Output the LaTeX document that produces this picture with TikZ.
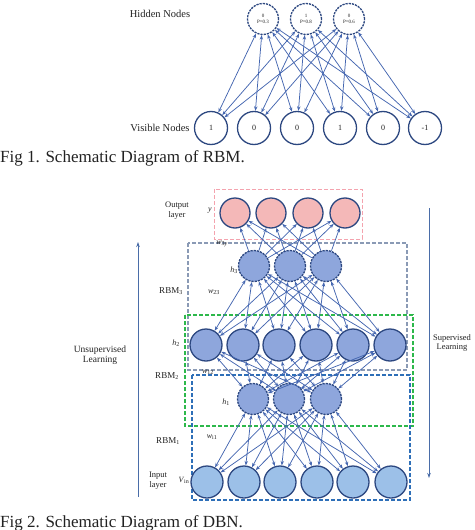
\documentclass[tikz,border=0pt]{standalone}
\usepackage{fontspec}
\setmainfont{Liberation Serif}
\usetikzlibrary{arrows.meta}
\definecolor{nodeborder}{HTML}{2C4780}
\definecolor{arrowc}{HTML}{4466B0}
\definecolor{pinkfill}{HTML}{F4B8B8}
\definecolor{hfill}{HTML}{8EA6DC}
\definecolor{infill}{HTML}{9CC0E8}
\definecolor{pinkbox}{HTML}{F4A3AE}
\definecolor{graybox}{HTML}{8A9AB5}
\definecolor{greenbox}{HTML}{2DB84B}
\definecolor{bluebox}{HTML}{2E6FB8}
\definecolor{axisc}{HTML}{4A6DA8}
\definecolor{txt}{HTML}{222222}
\begin{document}
\begin{tikzpicture}[x=1pt,y=-1pt,
  neuron/.style={circle,draw=nodeborder,line width=1.3pt,inner sep=0pt,minimum size=31pt},
  dneuron/.style={neuron,dash pattern=on 2.2pt off 1pt},
  conn/.style={draw=arrowc,line width=0.75pt,{Stealth[length=4.5pt,width=3.4pt]}-{Stealth[length=4.5pt,width=3.4pt]}},
  oneconn/.style={draw=arrowc,line width=0.75pt,-{Stealth[length=4.5pt,width=3.4pt]}},
  lbl/.style={text=txt,font=\fontsize{8}{9}\selectfont,inner sep=0pt},
  biglbl/.style={text=txt,font=\fontsize{10.5}{12}\selectfont,inner sep=0pt},
  captext/.style={text=txt,font=\fontsize{17}{20}\selectfont,inner sep=0pt,anchor=base west},
  probtext/.style={font=\fontsize{5}{5.5}\selectfont,text=txt,align=center},
  boxline/.style={dash pattern=on 4pt off 2pt}
]
\useasboundingbox (0,0) rectangle (474,530);

% ---------------- Fig 1 ----------------
\node[biglbl] (hidlbl) at (160,14) {Hidden Nodes};
\node[biglbl] (vislbl) at (160,128) {Visible Nodes};
\foreach \i/\x/\t in {1/263/{0\\P=0.3},2/306/{1\\P=0.8},3/349/{0\\P=0.6}}
  \node[dneuron,fill=white,probtext] (H\i) at (\x,19) {\t};
\foreach \i/\x/\t in {1/211/1,2/254/0,3/297/0,4/340/1,5/383/0,6/425/-1}
  \node[neuron,fill=white,minimum size=33pt,font=\fontsize{8}{9}\selectfont,text=txt] (V\i) at (\x,128) {\t};
\foreach \i in {1,2,3}
  \foreach \j in {1,...,6}
    \draw[conn] (H\i) -- (V\j);
\node[captext] (cap1) at (0,162) {Fig 1. Schematic Diagram of RBM.};

% ---------------- Fig 2 ----------------
% boxes
\draw[pinkbox,line width=1pt,boxline] (214,189) rectangle (362,239);
\draw[graybox,line width=1.3pt,boxline] (188,243) rectangle (407,370);
\draw[greenbox,line width=1.8pt,boxline] (185,315) rectangle (413,426);
\draw[bluebox,line width=1.5pt,boxline] (192,375) rectangle (410,500);

% nodes
\foreach \i/\x in {1/235,2/271,3/308,4/345}
  \node[neuron,fill=pinkfill,minimum size=30pt] (Y\i) at (\x,213) {};
\foreach \i/\x in {1/254,2/290,3/326}
  \node[dneuron,fill=hfill,minimum size=31pt] (C\i) at (\x,266) {};
\foreach \i/\x in {1/206,2/243,3/279,4/316,5/353,6/390}
  \node[neuron,fill=hfill,minimum size=32pt] (B\i) at (\x,345) {};
\foreach \i/\x in {1/253,2/289,3/326}
  \node[dneuron,fill=hfill,minimum size=31pt] (A\i) at (\x,399) {};
\foreach \i/\x in {1/207,2/244,3/280,4/317,5/353,6/391}
  \node[neuron,fill=infill,minimum size=32pt] (I\i) at (\x,482) {};

% connectors
\foreach \i in {1,2,3}
  \foreach \j in {1,...,4}
    \draw[oneconn] (C\i) -- (Y\j);
\foreach \i in {1,2,3}
  \foreach \j in {1,...,6}
    \draw[conn] (C\i) -- (B\j);
\foreach \i in {1,2,3}
  \foreach \j in {1,...,6}
    \draw[conn] (A\i) -- (B\j);
\foreach \i in {1,2,3}
  \foreach \j in {1,...,6}
    \draw[conn] (A\i) -- (I\j);

% labels
\node[lbl,align=center,font=\fontsize{8.5}{10}\selectfont] (outlbl) at (177,211) {Output\\layer};
\node[lbl] (ylbl) at (210,211) {\textit{y}};
\node[lbl] (w3y) at (222,244) {\textit{w}\textsubscript{3\textit{y}}};
\node[lbl] (h3lbl) at (234,270) {\textit{h}\textsubscript{3}};
\node[lbl,font=\fontsize{9}{10}\selectfont] (rbm3) at (171,291) {RBM\textsubscript{3}};
\node[lbl] (w23) at (214,292) {\textit{w}\textsubscript{23}};
\node[lbl] (h2lbl) at (176,343) {\textit{h}\textsubscript{2}};
\node[lbl,font=\fontsize{9}{10}\selectfont] (rbm2) at (167,376) {RBM\textsubscript{2}};
\node[lbl] (w12) at (208,372) {\textit{w}\textsubscript{12}};
\node[lbl] (h1lbl) at (226,402) {\textit{h}\textsubscript{1}};
\node[lbl,font=\fontsize{9}{10}\selectfont] (rbm1) at (168,441) {RBM\textsubscript{1}};
\node[lbl] (wi1) at (212,437) {\textit{w}\textsubscript{i1}};
\node[lbl,align=center,font=\fontsize{8.5}{10}\selectfont] (inlbl) at (158,481) {Input\\layer};
\node[lbl] (vin) at (184,480) {\textit{V}\textsubscript{in}};

% learning arrows
\coordinate (ub) at (138,497);
\coordinate (ut) at (138,242);
\draw[axisc,line width=0.8pt,-{Stealth[length=5pt,width=3.5pt]}] (ub) -- (ut);
\node[lbl,align=center,font=\fontsize{9.5}{10.5}\selectfont] (unsup) at (100,355) {Unsupervised\\Learning};
\coordinate (st) at (429,208);
\coordinate (sb) at (429,478);
\draw[axisc,line width=0.8pt,-{Stealth[length=5pt,width=3.5pt]}] (st) -- (sb);
\node[lbl,align=center,font=\fontsize{8.5}{9}\selectfont] (sup) at (452,343) {Supervised\\Learning};

\node[captext] (cap2) at (0,527) {Fig 2. Schematic Diagram of DBN.};
\end{tikzpicture}
\end{document}
